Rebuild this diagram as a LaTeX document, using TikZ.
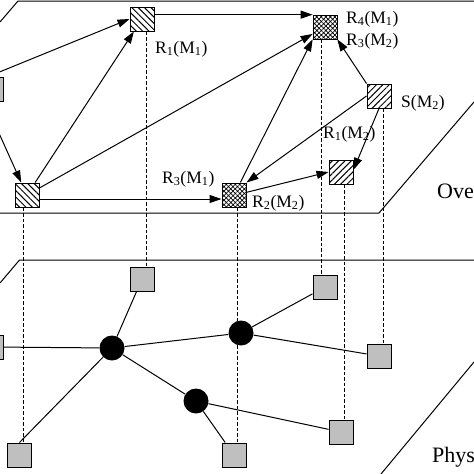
\documentclass[tikz,border=0pt]{standalone}
\usepackage{fontspec}
\setmainfont{Liberation Serif}
\usetikzlibrary{arrows.meta,patterns.meta}

\begin{document}
\begin{tikzpicture}[x=1pt, y=-1pt, >={Triangle[length=12pt,width=8pt]},
    peer/.style={draw, line width=1pt, minimum size=24pt, inner sep=0pt},
    host/.style={peer, fill=black!25},
    hatchl/.style={peer, pattern={Lines[angle=-45,distance=4.5pt,line width=1pt]}},
    hatchr/.style={peer, pattern={Lines[angle=45,distance=4.5pt,line width=1pt]}},
    cross/.style={peer, pattern={Hatch[angle=45,distance=3.2pt,line width=0.7pt]}},
    router/.style={circle, fill=black, minimum size=25pt, inner sep=0pt},
    link/.style={line width=1pt},
    proj/.style={line width=1pt, dash pattern=on 3.5pt off 2pt},
    lbl/.style={font=\fontsize{17.5}{17.5}\selectfont, inner sep=0pt, anchor=base west},
    plane/.style={font=\fontsize{22}{22}\selectfont, inner sep=0pt, anchor=base west}]
    \fill[white] (0, 0) rectangle (474, 474);
    \useasboundingbox (0, 0) rectangle (474, 474);

    \draw[link] (0, 22) -- (18, 1) -- (474, 1);
    \draw[link] (0, 213) -- (379, 213) -- (474, 102);
    \draw[link] (0, 283) -- (19.5, 260) -- (474, 260);
    \draw[link] (381, 474) -- (474, 362);
    \node[plane] at (437, 198) {Overlay};
    \node[plane] at (432, 462) {Physical};

    \node[host] (g0) at (-9, 89) {};
    \node[hatchl] (s1) at (27, 195) {};
    \node[hatchl] (r1) at (142, 19) {};
    \node[cross] (r4) at (325, 27) {};
    \node[hatchr] (s2) at (379, 96) {};
    \node[hatchr] (q1) at (341, 172) {};
    \node[cross] (r3) at (234, 195) {};
    \coordinate (ina) at (-30, 84);
    \coordinate (inb) at (-20, 91);

    \node[lbl] at (155, 53) {R\textsubscript{1}(M\textsubscript{1})};
    \node[lbl] at (346, 23) {R\textsubscript{4}(M\textsubscript{1})};
    \node[lbl] at (346, 45) {R\textsubscript{3}(M\textsubscript{2})};
    \node[lbl] at (401, 107) {S(M\textsubscript{2})};
    \node[lbl] at (323, 138) {R\textsubscript{1}(M\textsubscript{2})};
    \node[lbl] at (162, 183) {R\textsubscript{3}(M\textsubscript{1})};
    \node[lbl] at (252, 207) {R\textsubscript{2}(M\textsubscript{2})};

    \draw[link,->] (ina) -- (r1.west);
    \draw[link,->] (inb) -- (s1.115);
    \draw[link,->] (s1) -- (r1);
    \draw[link,->] (s1) -- (r4);
    \draw[link,->] (r1.east |- r4.north) -- (r4.north west);
    \draw[link,->] ([yshift=-4pt]s1.east) -- ([yshift=-4pt]r3.west);
    \draw[link,->] (r3) -- (r4.south west);
    \draw[link,->] (s2.north west) -- (r4.south east);
    \draw[link,->] (s2.west) -- (r3.north east);
    \draw[link,->] (s2.south) -- (q1.10);
    \draw[link,->] (r3.12) -- (q1.west);

    \node[host] (h0) at (-9, 347) {};
    \node[host] (h1) at (142, 279) {};
    \node[host] (h2) at (325, 287) {};
    \node[host] (h3) at (379, 356) {};
    \node[host] (h4) at (341, 432) {};
    \node[host] (h5) at (234, 455) {};
    \node[host] (h6) at (19.5, 455) {};
    \node[router] (c1) at (112, 348) {};
    \node[router] (c2) at (241, 333) {};
    \node[router] (c3) at (196, 401) {};

    \draw[link] (h0) -- (c1);
    \draw[link] (h1) -- (c1);
    \draw[link] (c1) -- (c2);
    \draw[link] (c1) -- (c3);
    \draw[link] (c1) -- (h6.north);
    \draw[link] (c2) -- (h2);
    \draw[link] (c2) -- (h3);
    \draw[link] (c3) -- (h4);
    \draw[link] (c3) -- (h5);

    \draw[proj] ([xshift=-4pt]s1.south) -- ([xshift=3.5pt]h6.north);
    \draw[proj] ([xshift=4pt]r1.south) -- ([xshift=4pt]h1.north);
    \draw[proj] ([xshift=-4pt]r4.south) -- ([xshift=-4pt]h2.north);
    \draw[proj] ([xshift=3pt]r3.south) -- ([xshift=3pt]h5.north);
    \draw[proj] ([xshift=3pt]q1.south) -- ([xshift=3pt]h4.north);
    \draw[proj] ([xshift=4pt]s2.south) -- ([xshift=4pt]h3.north);
\end{tikzpicture}
\end{document}
